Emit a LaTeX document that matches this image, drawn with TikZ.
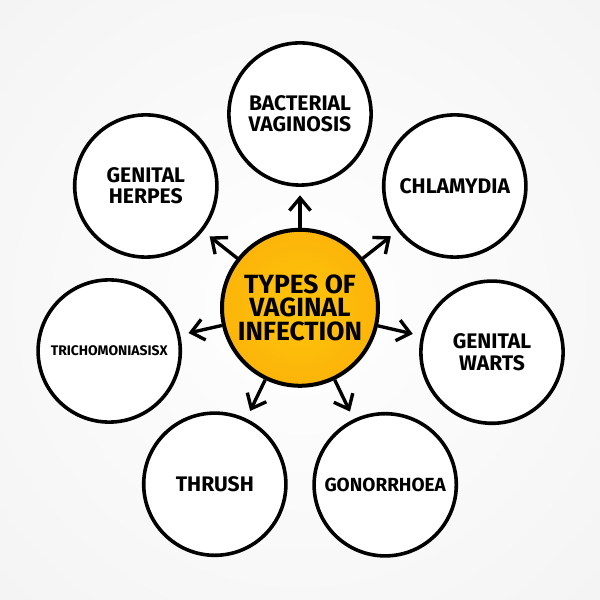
\documentclass[tikz,border=0pt]{standalone}
\usepackage{fontspec}
\setmainfont{Fira Sans}
\usetikzlibrary{arrows.meta}
\definecolor{hubin}{RGB}{255,196,10}
\definecolor{hubout}{RGB}{245,150,10}
\pgfdeclareradialshading{hubglow}{\pgfpoint{0bp}{0bp}}{color(0bp)=(hubin); color(30bp)=(hubin!60!hubout); color(50bp)=(hubout)}

\begin{document}
\begin{tikzpicture}[
  topic/.style={circle,draw=black,line width=1.7pt,fill=white,minimum size=2.37cm,
    inner sep=0pt,align=center,font=\bfseries\fontsize{10}{10}\selectfont},
  hub/.style={circle,draw=black,line width=1.9pt,shading=hubglow,minimum size=2.6cm,
    inner sep=0pt,align=center,font=\bfseries\fontsize{12.5}{11}\selectfont},
  link/.style={-{Straight Barb[length=6pt,width=10pt]},line width=1.6pt,shorten >=4pt}
]
\useasboundingbox (-5,-5) rectangle (5,5);
\begin{scope}
\clip (-5,-5) rectangle (5,5);
\shade[inner color=white,outer color=black!8] (-13,-13) rectangle (13,13);
\end{scope}

\node at ( 0.00,-0.13) [hub]   (hub)    {TYPES OF\\VAGINAL\\INFECTION};

\node at ( 0.00, 3.10) [topic] (bv)     {BACTERIAL\\VAGINOSIS};
\node at (-2.57, 1.90) [topic] (herpes) {GENITAL\\HERPES};
\node at ( 2.58, 1.90) [topic] (chlam)  {CHLAMYDIA};
\node at (-3.18,-0.85) [topic,font=\bfseries\fontsize{6.6}{7}\selectfont] (tricho) {TRICHOMONIASISX};
\node at ( 3.20,-0.87) [topic] (warts)  {GENITAL\\WARTS};
\node at (-1.42,-3.07) [topic] (thrush) {THRUSH};
\node at ( 1.42,-3.08) [topic,font=\bfseries\fontsize{9}{9}\selectfont] (gono) {GONORRHOEA};

\foreach \t in {bv,herpes,chlam,tricho,warts,thrush,gono}
  \draw [link] (hub) -- (\t);
\end{tikzpicture}
\end{document}
